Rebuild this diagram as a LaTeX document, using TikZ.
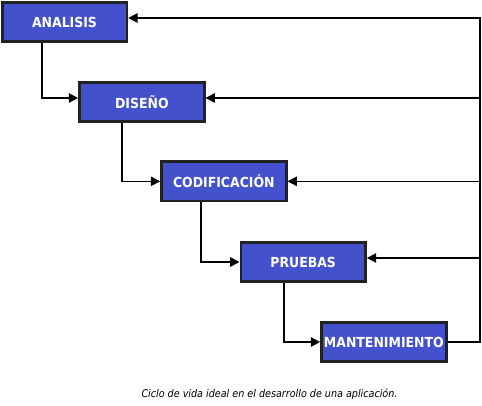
\documentclass[tikz,border=0pt]{standalone}
\usepackage{fontspec}
\setmainfont{DejaVu Sans}
\newfontfamily\condfont{DejaVu Sans Condensed}
\usepackage{xcolor}
\usetikzlibrary{positioning, arrows.meta}
\definecolor{boxblue}{HTML}{4352CC}
\definecolor{boxline}{HTML}{222222}
\begin{document}
\begin{tikzpicture}[
      x=0.75pt, y=-0.75pt,
      stage/.style={
        rectangle,
        draw=boxline,
        fill=boxblue,
        line width=2pt,
        minimum width=93.5pt,
        minimum height=29.5pt,
        inner sep=0pt,
        text=white,
        font=\condfont\bfseries\fontsize{10.4}{12}\selectfont,
        align=center
      },
      arr/.style={draw, line width=1.2pt, -{Triangle[length=7pt,width=7pt]}},
      node distance=28.5pt
    ]
    \useasboundingbox (0,0) rectangle (482,406);
    % Nodes
    \node[stage] (ana) at (64.5,22) {ANALISIS};
    \node[stage, below right=28.5pt and -37.5pt of ana] (dis) {DISEÑO};
    \node[stage, below right=28pt and -34pt of dis] (cod) {CODIFICACIÓN};
    \node[stage, below right=29pt and -36pt of cod] (pru) {PRUEBAS};
    \node[stage, below right=28.5pt and -35pt of pru] (man) {MANTENIMIENTO};
    \node[font=\condfont\itshape\fontsize{8}{9}\selectfont] (cap) at (269.5,394)
      {Ciclo de vida ideal en el desarrollo de una aplicación.};
    \coordinate (rail) at (480,0);

    % Arrows down the cascade
    \draw[arr] ([xshift=-17pt]ana.south) |- ([yshift=3pt]dis.west);
    \draw[arr] ([xshift=-15pt]dis.south) |- (cod.west);
    \draw[arr] ([xshift=-17pt]cod.south) |- (pru.west);
    \draw[arr] ([xshift=-14.5pt]pru.south) |- (man.west);

    % Feedback
    \draw[arr] (man.east) -- (man.east -| rail) |- ([yshift=3pt]ana.east);
    \draw[arr] ([yshift=3pt]rail |- dis.east) -- ([yshift=3pt]dis.east);
    \draw[arr] (rail |- cod.east) -- (cod.east);
    \draw[arr] ([yshift=3pt]rail |- pru.east) -- ([yshift=3pt]pru.east);
  \end{tikzpicture}
\end{document}
